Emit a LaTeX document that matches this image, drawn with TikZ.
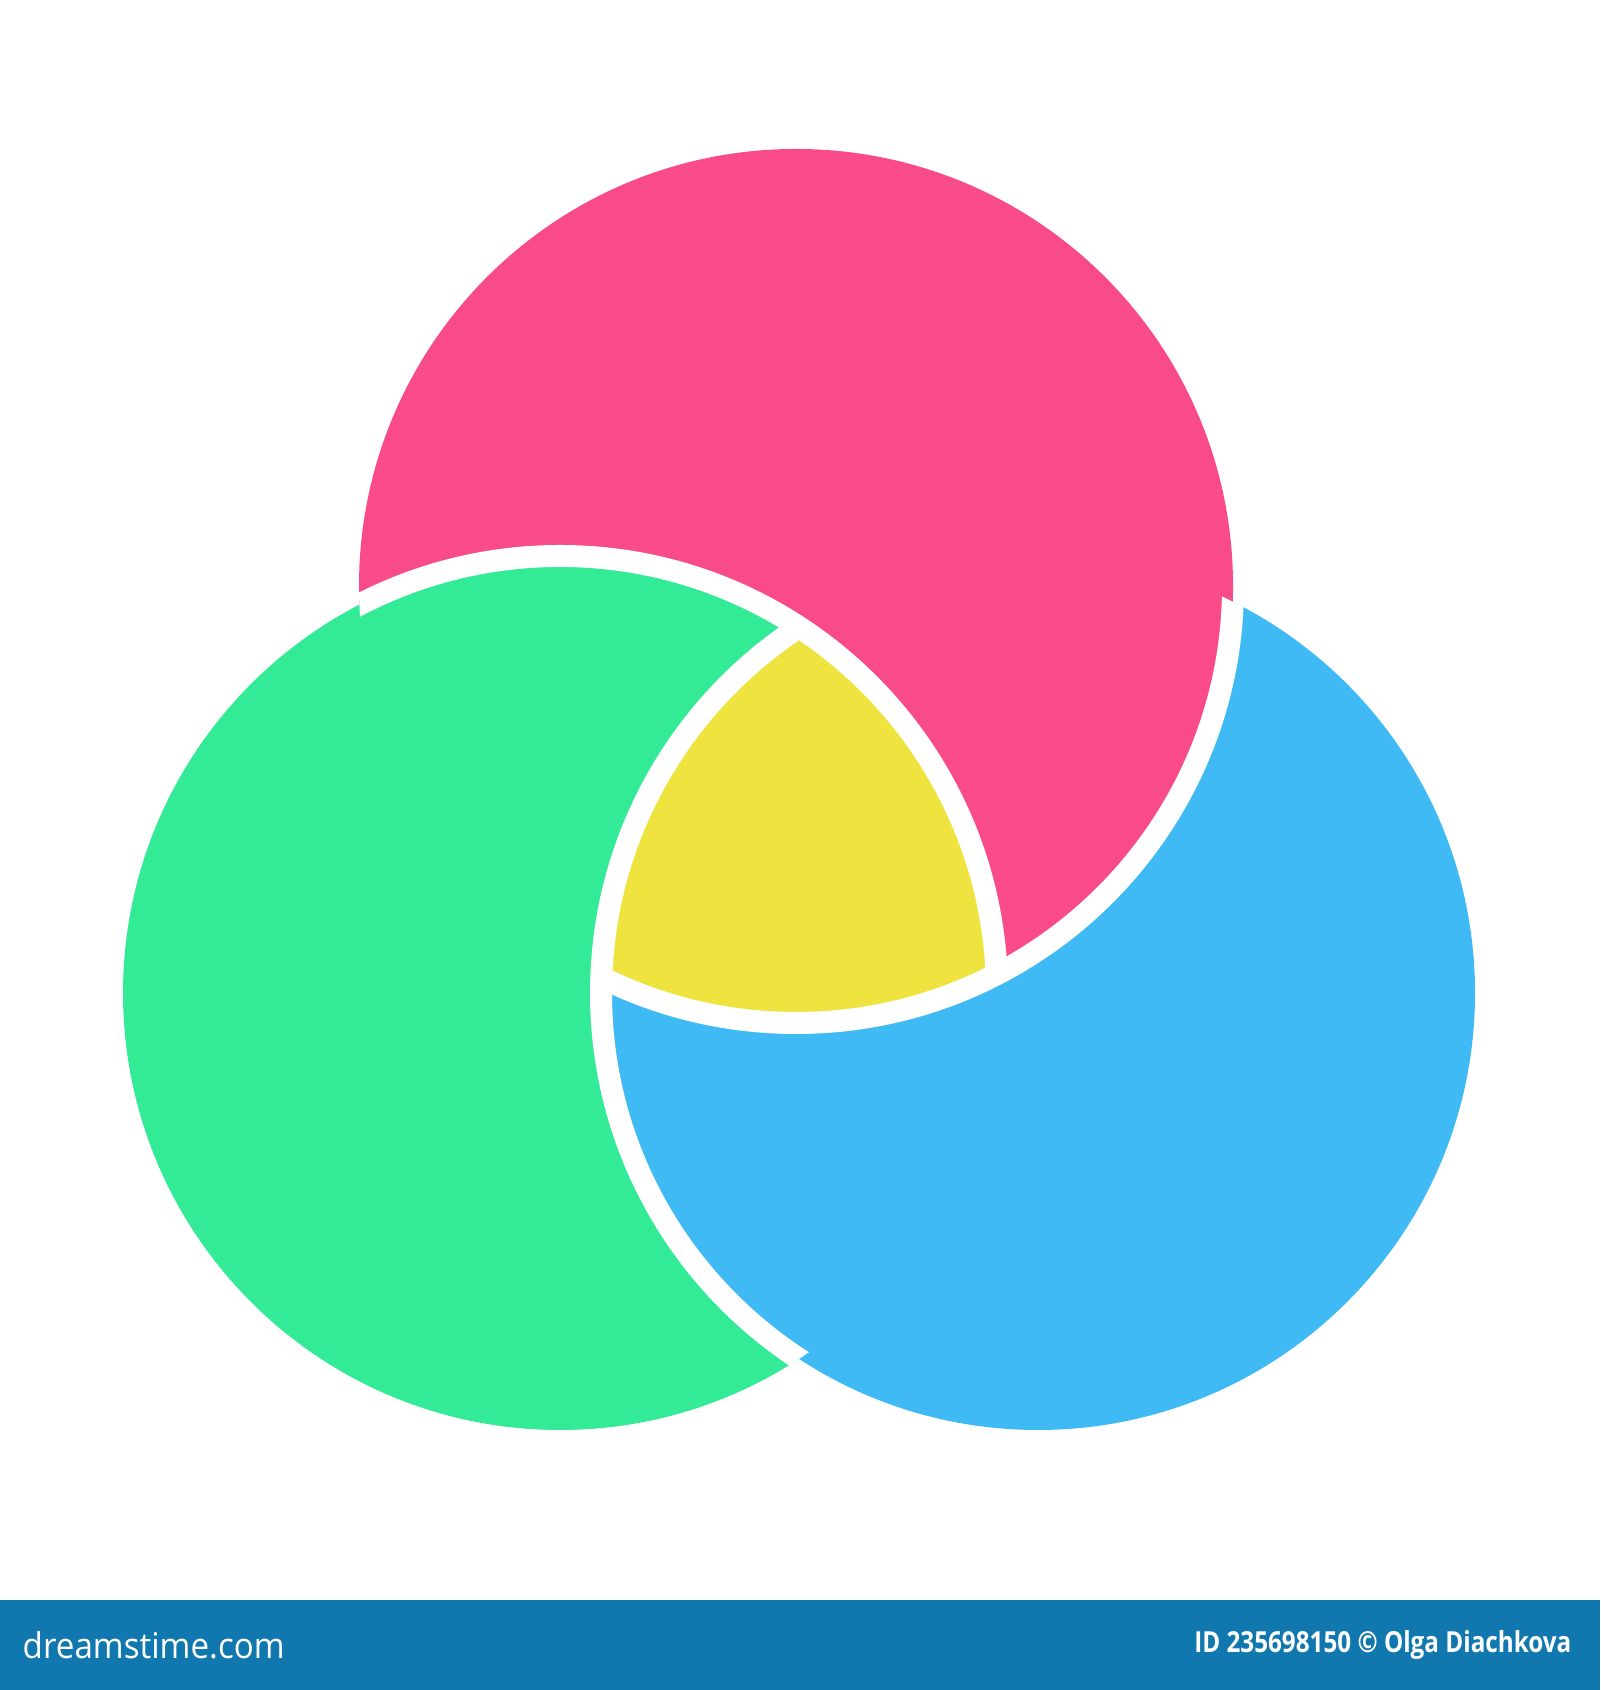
\documentclass[tikz,border=0pt]{standalone}
\usepackage{fontspec}
\setmainfont{Open Sans}
\usepackage{graphicx}
\usetikzlibrary{positioning}

\definecolor{pinkfill}{HTML}{F94A8A}
\definecolor{greenfill}{HTML}{33EB96}
\definecolor{bluefill}{HTML}{40BAF4}
\definecolor{yellowfill}{HTML}{EFE43F}
\definecolor{barblue}{HTML}{1078AE}
\newcommand{\circrad}{4.37}

\begin{document}
\begin{tikzpicture}[
    gap/.style={draw=white, line width=0.22cm},
    every node/.style={text=white, inner sep=0pt}
]
\useasboundingbox (0,0) rectangle (16,16.9);
\fill[white] (0,0) rectangle (16,16.9);

% Centres
\coordinate (pinkc) at (7.96,11.04);
\coordinate (greenc) at (5.60,6.97);
\coordinate (bluec) at (10.38,6.97);

% Circles
\fill[pinkfill] (pinkc) circle (\circrad);
\fill[greenfill] (greenc) circle (\circrad);
% blue only outside pink
\begin{scope}[even odd rule]
\clip (0,0) rectangle (16,16.9) (pinkc) circle (\circrad);
\fill[bluefill] (bluec) circle (\circrad);
\end{scope}

% Middle part
\begin{scope}
\clip (pinkc) circle (\circrad);
\clip (greenc) circle (\circrad);
\fill[yellowfill] (bluec) circle (\circrad);
\end{scope}

% White gaps
\begin{scope}
\clip (pinkc) circle (\circrad);
\draw[gap] (greenc) circle (\circrad);
\end{scope}
\begin{scope}
\clip (greenc) circle (\circrad);
\draw[gap] (bluec) circle (\circrad);
\end{scope}
\begin{scope}
\clip (bluec) circle (\circrad);
\draw[gap] (pinkc) circle (\circrad);
\end{scope}

% Bottom bar
\fill[barblue] (0,0) rectangle (16,0.9);
\node[anchor=west] (logo) at (0.22,0.45) {\resizebox{2.62cm}{0.27cm}{dreamstime.com}};
\node[anchor=east] (credit) at (15.72,0.45) {\resizebox{3.77cm}{0.22cm}{\bfseries ID 235698150 © Olga Diachkova}};

\end{tikzpicture}
\end{document}
